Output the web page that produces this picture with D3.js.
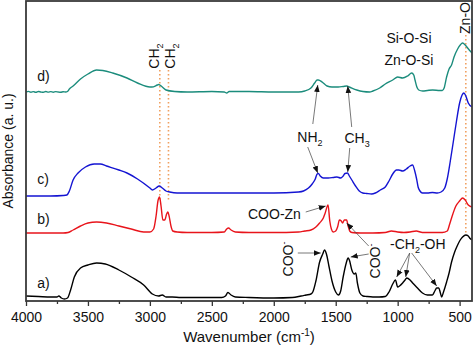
<!DOCTYPE html>
<meta charset="utf-8">
<script src="https://cdn.jsdelivr.net/npm/d3@7/dist/d3.min.js"></script>
<style>
body { margin: 0; background: #fff; }
text { font-family: "Liberation Sans", Arial, sans-serif; fill: #111; }
path.spec { fill: none; stroke-width: 1.4px; stroke-linejoin: round; }
line.guide { stroke: #f0a060; stroke-width: 1.6px; stroke-dasharray: 1.4,2.6; }
line.pointer { stroke: #555; stroke-width: 0.8px; }
.axis path, .axis line { stroke: #333; }
.axis text { font-size: 14px; fill: #111; }
</style>
<body>
<div id="chart"></div>
<script>
// FTIR spectra, [wavenumber (cm-1), absorbance (a.u., stacked offsets)]
var specA = [
  [4000,5],[3900,4.5],[3800,4],[3750,4],[3735,5],[3715,3],[3690,2],[3665,3],[3640,11],[3610,24],
  [3560,33],[3500,36],[3430,38],[3360,37],[3250,31],[3150,24],[3050,16],[2980,7],[2930,5],[2900,6],
  [2870,4],[2820,4],[2750,3.5],[2600,3.5],[2420,3.5],[2390,5],[2370,8.5],[2345,6],[2310,4],[2200,3.5],
  [2000,3],[1850,3.5],[1780,5],[1740,6],[1700,7],[1685,9],[1660,20],[1630,39],[1605,47],[1590,51],
  [1575,47],[1555,35],[1530,20],[1500,9],[1478,6],[1460,10],[1440,24],[1415,38],[1400,43],[1390,41],
  [1370,31],[1350,27],[1338,28],[1325,18],[1305,8],[1280,5],[1250,4.5],[1200,4],[1150,4],[1100,4.5],
  [1070,9],[1040,17],[1018,21],[1000,14],[985,15],[960,18],[940,21],[927,23],[900,21],[879,18],
  [840,13],[800,8],[760,6],[720,6],[700,10],[685,13],[668,13],[655,8],[645,4],[630,9],
  [605,19],[585,28],[565,39],[540,49],[516,56],[495,61],[476,64],[450,66],[430,65],[419,63],[400,61]
];
var specB = [
  [4000,68],[3800,68],[3700,68],[3660,68.5],[3620,71],[3560,75],[3500,78],[3430,79],[3350,78],[3250,75],
  [3150,72],[3050,69],[3000,69],[2970,72],[2950,85],[2935,100],[2922,104],[2910,95],[2895,81],[2880,81],
  [2865,87],[2855,89],[2845,85],[2830,75],[2815,70],[2780,69],[2700,68.5],[2500,68.5],[2400,69],[2380,72],
  [2365,73],[2345,71],[2310,69],[2200,68.5],[2000,68.5],[1800,69],[1750,70],[1700,71],[1660,74],[1630,78],
  [1600,83],[1585,88],[1562,96],[1548,80],[1535,72],[1520,69],[1500,70],[1485,74],[1470,81],[1455,80],
  [1445,78],[1430,81],[1412,81],[1400,75],[1387,70],[1370,68.5],[1300,68],[1200,68],[1100,68.5],[1050,70],
  [1000,69],[950,68.5],[900,69],[850,70],[800,68.5],[700,68.5],[640,68.5],[600,70],[580,77],[560,85],
  [530,95],[500,100],[476,103],[455,101],[430,96],[400,94]
];
var specC = [
  [4000,105],[3800,105],[3700,105.5],[3670,106],[3650,110],[3620,121],[3580,128],[3520,134],[3450,137],[3400,137],
  [3350,135],[3250,131],[3185,128],[3100,122],[3000,113],[2980,111],[2950,113],[2925,115],[2900,113],[2870,110],
  [2840,109],[2780,108],[2700,108],[2500,108],[2300,108],[2000,108],[1800,109],[1760,110],[1720,113],[1690,117],
  [1665,122],[1650,127],[1640,127.5],[1625,125],[1600,123],[1560,123],[1520,123.5],[1490,124],[1460,123],[1440,125],
  [1425,127.5],[1405,128],[1390,125],[1370,121],[1340,115],[1310,110],[1282,108],[1250,107.5],[1210,107],[1180,108],
  [1140,111],[1100,114],[1070,120],[1040,127],[1010,131],[990,131],[960,130],[930,132],[900,135],[880,136],
  [862,130],[847,122],[835,114],[820,110],[800,108],[760,108],[720,108.5],[680,108],[650,109],[620,113],
  [600,122],[575,140],[550,160],[525,180],[500,198],[480,206],[465,208],[450,205],[430,198],[400,194]
];
var specD = [
  [4000,209],[3980,209.6],[3960,208.8],[3940,209.4],[3920,208.6],[3900,209.5],[3880,209],[3860,208.7],[3840,209.5],[3820,208.9],
  [3800,209.4],[3780,208.8],[3760,209.4],[3740,209],[3720,208.7],[3700,209.3],[3680,209],[3665,209.5],[3650,212],[3620,215],
  [3560,222],[3500,227],[3430,231],[3380,230.5],[3300,228],[3185,223],[3100,218],[3000,214],[2984,214],[2940,216],
  [2930,216.5],[2900,214],[2870,211],[2800,209.5],[2700,209],[2500,209.5],[2400,209],[2380,208],[2360,209.5],[2200,209.5],
  [2000,209],[1800,209],[1750,210],[1700,213],[1670,218],[1650,221],[1640,221],[1610,219],[1570,215],[1530,214],
  [1480,214],[1440,214.5],[1410,215],[1390,214],[1330,211],[1280,209.5],[1226,209],[1200,210],[1145,213],[1100,217],
  [1040,221],[1000,224],[960,223],[920,225],[887,228],[870,226],[860,221],[845,214],[830,211],[798,210],
  [760,210.5],[718,211],[660,210.5],[640,210.5],[625,213],[605,224],[585,232],[565,236],[545,244],[516,252],
  [495,256],[476,258],[455,256],[435,253],[415,250],[400,248]
];

var seriesColors = ["#000000", "#e8141b", "#1414d2", "#1b8c7c"];
var seriesNames = ["a)", "b)", "c)", "d)"];
var seriesLabelPos = [[3910, 13], [3910, 77], [3910, 117], [3910, 220]];

var xTicks = [4000, 3500, 3000, 2500, 2000, 1500, 1000, 500];
var xMinorTicks = [3750, 3250, 2750, 2250, 1750, 1250, 750];

// vertical marker lines: [wavenumber, from a.u., to a.u.]
var guides = [[2920, 231, 101], [2850, 231, 101], [450, 266, 66]];

// arrows: [from wn, from a.u., to wn, to a.u.]
var pointers = [
  [1685, 177, 1645, 216], [1726, 154, 1645, 128],
  [1371, 174, 1403, 215], [1387, 153, 1403, 129],
  [1742, 89, 1581, 95], [1806, 48, 1621, 48],
  [1234, 55, 1411, 78], [1234, 47, 1379, 44],
  [903, 48, 1008, 24], [903, 48, 935, 24], [887, 48, 685, 15]
];

var width = 474, height = 347;
var margin = {top: 1, right: 2, bottom: 46, left: 26};
var x = d3.scaleLinear().domain([4000, 400]).range([margin.left, width - margin.right]);
var y = d3.scaleLinear().domain([0, 300]).range([height - margin.bottom, margin.top]);

var svg = d3.select("#chart").append("svg")
  .attr("width", width)
  .attr("height", height);

svg.append("defs").append("clipPath").attr("id", "plot")
  .append("rect")
  .attr("x", margin.left).attr("y", margin.top)
  .attr("width", width - margin.right - margin.left)
  .attr("height", height - margin.bottom - margin.top);

svg.select("defs").append("marker")
  .attr("id", "head")
  .attr("viewBox", "0 -5 10 10")
  .attr("refX", 10)
  .attr("refY", 0)
  .attr("markerWidth", 7)
  .attr("markerHeight", 7)
  .attr("markerUnits", "userSpaceOnUse")
  .attr("orient", "auto")
  .append("path")
  .attr("d", "M0,-4L10,0L0,4Z")
  .attr("fill", "#111");

// dotted marker lines
svg.append("g").selectAll("line")
  .data(guides)
  .enter().append("line")
  .attr("class", "guide")
  .attr("x1", function(d) { return x(d[0]); })
  .attr("x2", function(d) { return x(d[0]); })
  .attr("y1", function(d) { return y(d[1]); })
  .attr("y2", function(d) { return y(d[2]); });

var line = d3.line()
  .x(function(d) { return x(d[0]); })
  .y(function(d) { return y(d[1]); })
  .curve(d3.curveMonotoneX);

svg.append("g")
  .attr("clip-path", "url(#plot)")
  .selectAll("path")
  .data([specA, specB, specC, specD])
  .enter().append("path")
  .attr("class", "spec")
  .attr("stroke", function(d, i) { return seriesColors[i]; })
  .attr("d", line);

// series names
svg.append("g").selectAll("text")
  .data(seriesNames)
  .enter().append("text")
  .attr("x", function(d, i) { return x(seriesLabelPos[i][0]); })
  .attr("y", function(d, i) { return y(seriesLabelPos[i][1]); })
  .style("font-size", "14px")
  .text(function(d) { return d; });

// arrows
svg.append("g").selectAll("line")
  .data(pointers)
  .enter().append("line")
  .attr("class", "pointer")
  .attr("x1", function(d) { return x(d[0]); })
  .attr("y1", function(d) { return y(d[1]); })
  .attr("x2", function(d) { return x(d[2]); })
  .attr("y2", function(d) { return y(d[3]); })
  .attr("marker-end", "url(#head)");

// text with sub/superscripts
function label(px, py, parts, opts) {
  opts = opts || {};
  var t = svg.append("text")
    .attr("x", px).attr("y", py)
    .style("font-size", (opts.size || 14) + "px")
    .attr("text-anchor", opts.anchor || "start");
  if (opts.rotate) t.attr("transform", "rotate(-90," + px + "," + py + ")");
  parts.forEach(function(p) {
    var s = t.append("tspan").text(p[0]);
    if (p[1] == "sub") s.attr("dy", 4).style("font-size", "9px");
    else if (p[1] == "sup") s.attr("dy", -6).style("font-size", "9px");
    else if (p[1] == "back") s.attr("dy", p[2]);
  });
  return t;
}

label(x(2920) - 1, y(245), [["CH"], ["2", "sub"]], {rotate: true, anchor: "middle"});
label(x(2850) + 7, y(245), [["CH"], ["2", "sub"]], {rotate: true, anchor: "middle"});
label(x(450) + 4, y(283), [["Zn-O"]], {rotate: true, anchor: "middle"});
label(x(909), y(258), [["Si-O-Si"]], {anchor: "middle"});
label(x(909), y(236), [["Zn-O-Si"]], {anchor: "middle"});
label(x(1810), y(159), [["NH"], ["2", "sub"]]);
label(x(1430), y(158), [["CH"], ["3", "sub"]]);
label(x(2208), y(82), [["COO-Zn"]]);
label(x(1845), y(42), [["COO"], ["-", "sup"]], {rotate: true, anchor: "middle"});
label(x(1143), y(40), [["COO"], ["-", "sup"]], {rotate: true, anchor: "middle"});
label(x(1062), y(52), [["-CH"], ["2", "sub"], ["-OH", "back", -4]]);

// axes and frame
var xAxis = d3.axisBottom(x)
  .tickValues(xTicks)
  .tickSize(5)
  .tickPadding(6)
  .tickFormat(d3.format("d"));
var gx = svg.append("g")
  .attr("class", "axis")
  .attr("transform", "translate(0," + (height - margin.bottom) + ")")
  .call(xAxis);
gx.select(".domain").remove();
gx.selectAll("line").attr("stroke-width", 1.3);
gx.selectAll("text").style("font-size", "14px");

svg.append("g")
  .attr("class", "axis")
  .attr("transform", "translate(0," + (height - margin.bottom) + ")")
  .call(d3.axisBottom(x).tickValues(xMinorTicks).tickSize(3).tickFormat(""))
  .call(function(g) { g.select(".domain").remove(); })
  .selectAll("line").attr("stroke-width", 1.3);

svg.append("rect")
  .attr("x", margin.left).attr("y", margin.top)
  .attr("width", width - margin.right - margin.left)
  .attr("height", height - margin.bottom - margin.top)
  .attr("fill", "none")
  .attr("stroke", "#3a3a3a")
  .attr("stroke-width", 1.8);

svg.append("text")
  .attr("x", (margin.left + width - margin.right) / 2)
  .attr("y", 342)
  .attr("text-anchor", "middle")
  .style("font-size", "15px")
  .call(function(t) {
    t.append("tspan").text("Wavenumber (cm");
    t.append("tspan").attr("dy", -6).style("font-size", "10px").text("-1");
    t.append("tspan").attr("dy", 6).text(")");
  });

svg.append("text")
  .attr("transform", "translate(13,151) rotate(-90)")
  .attr("text-anchor", "middle")
  .style("font-size", "14px")
  .text("Absorbance (a. u.)");
</script>
</body>
</html>
